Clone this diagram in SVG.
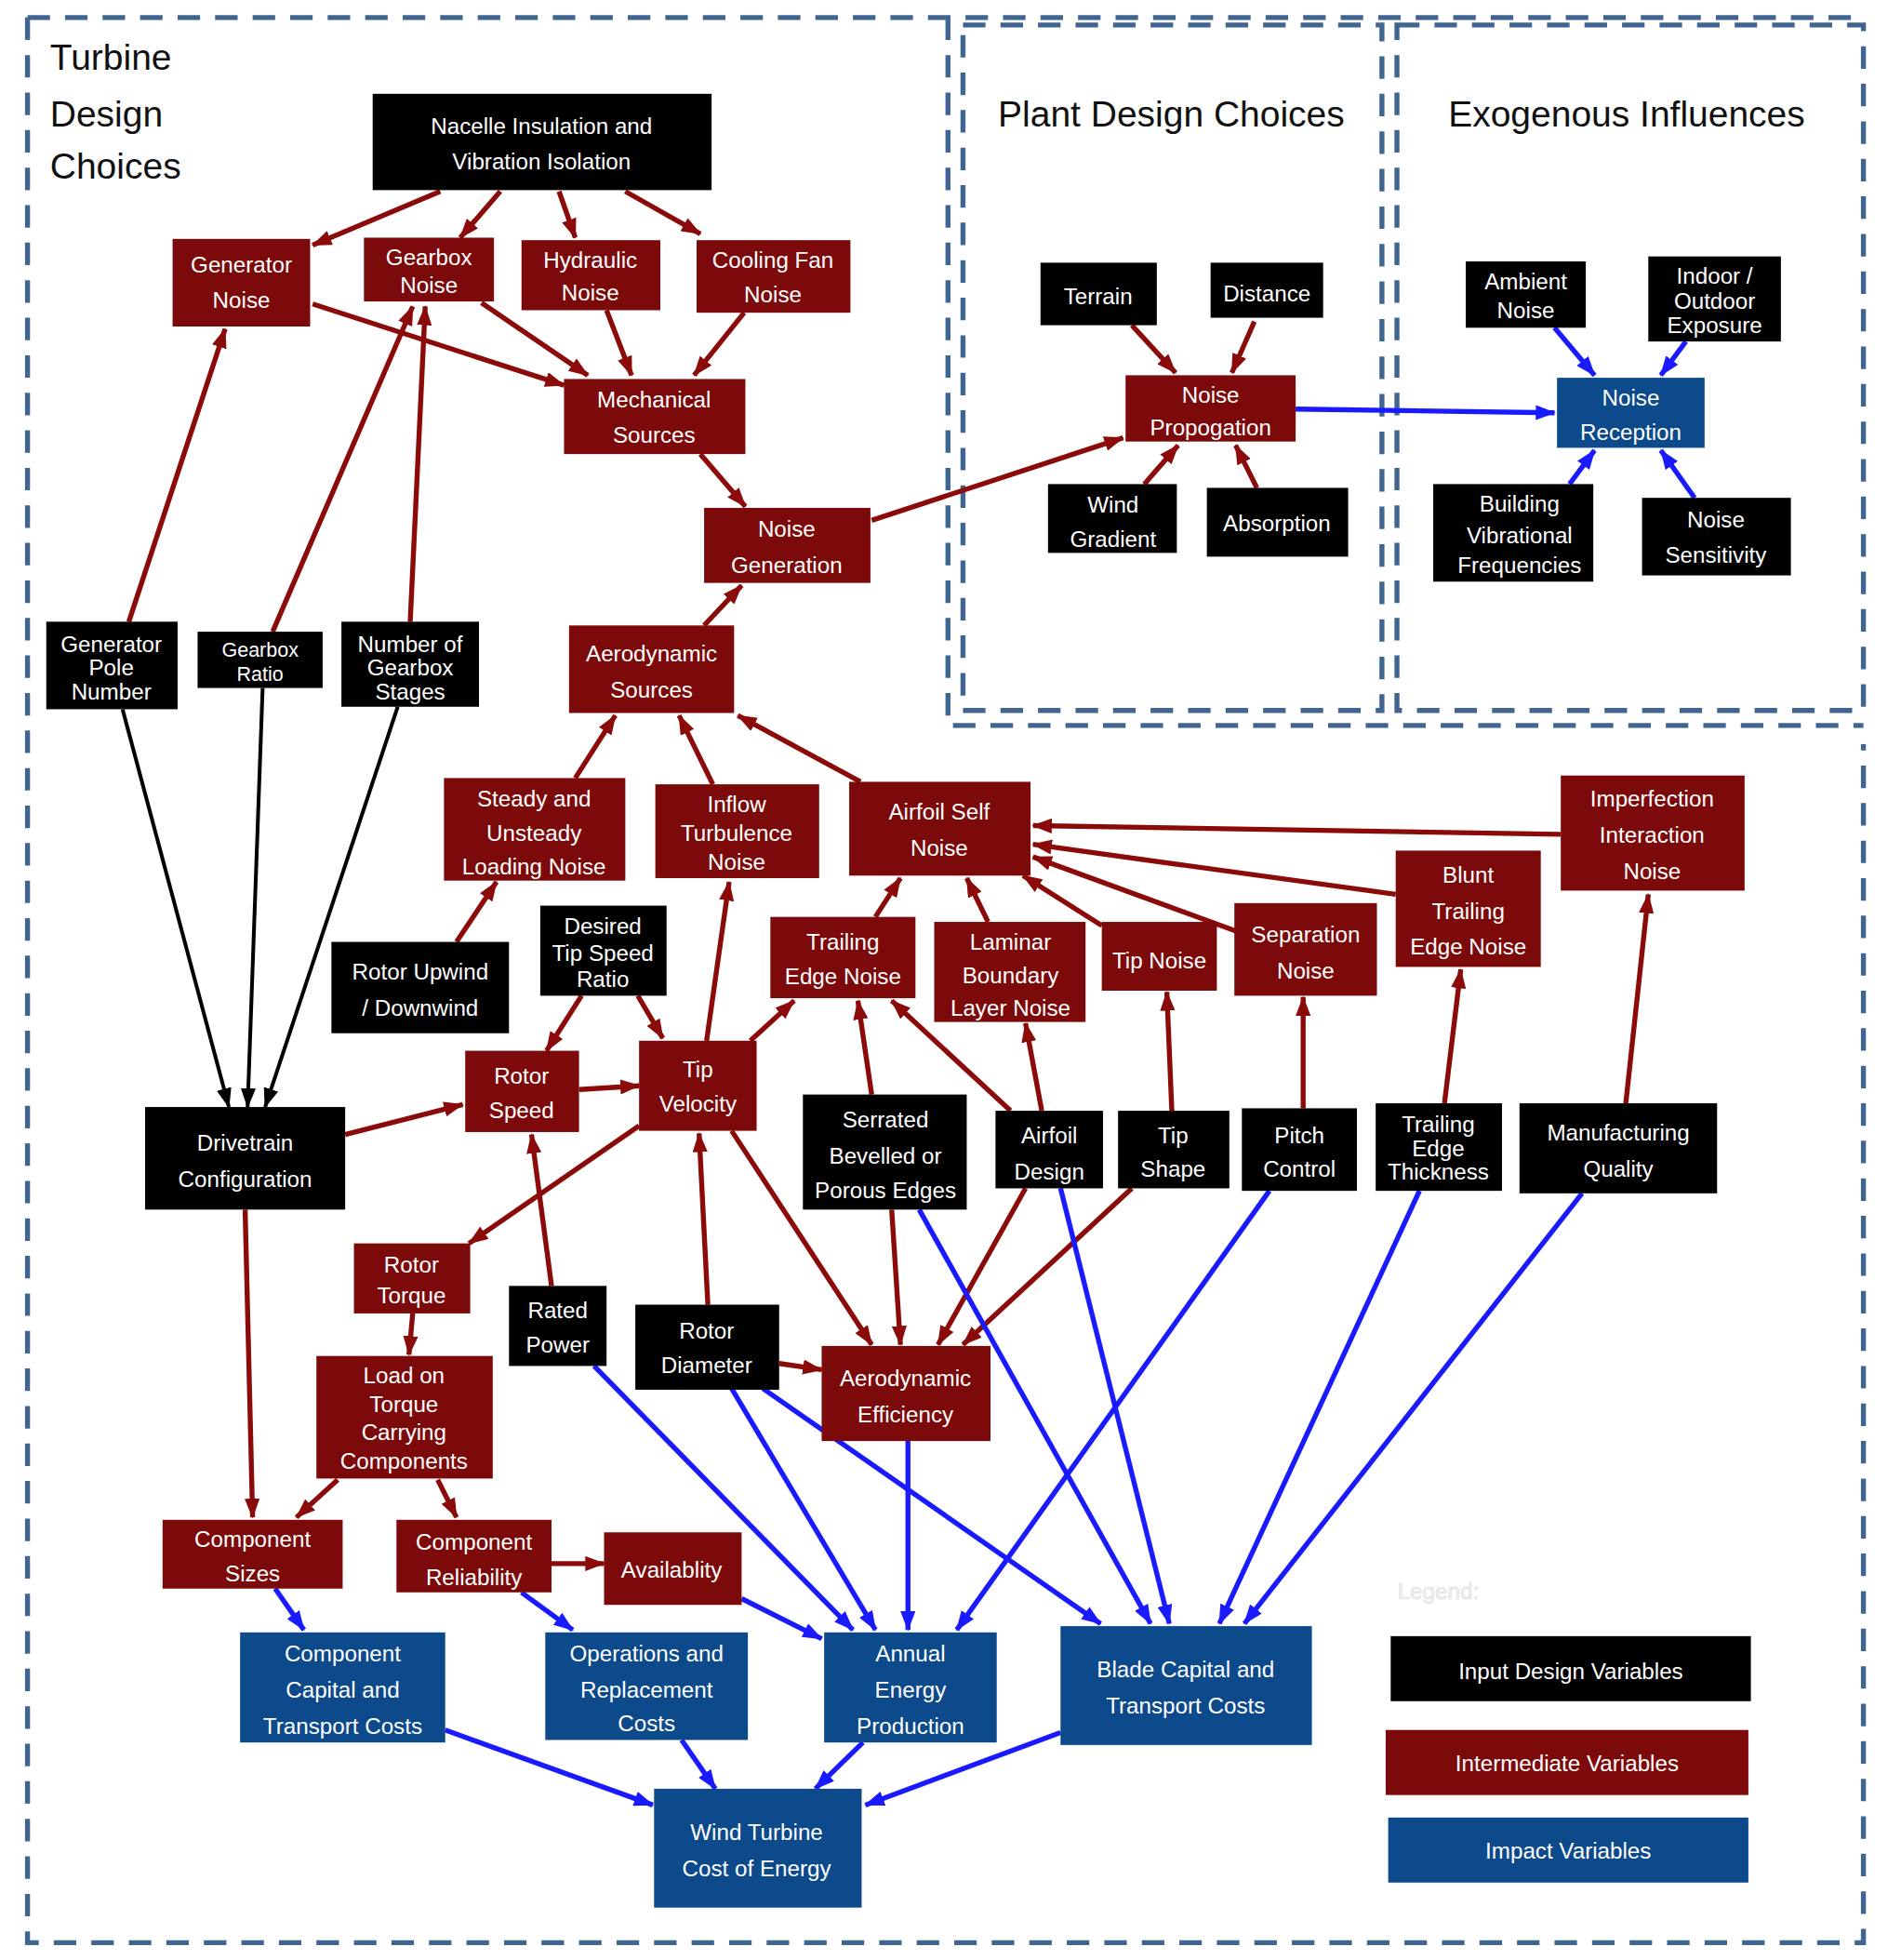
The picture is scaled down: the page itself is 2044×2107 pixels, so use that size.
<svg xmlns="http://www.w3.org/2000/svg" width="2044" height="2107" viewBox="0 0 2044 2107">
<style>
text{font-family:"Liberation Sans",Arial,sans-serif;font-size:18px;fill:#fff;text-anchor:middle}
.t{fill:#111;font-size:29px;text-anchor:start}
.k{fill:#000}.r{fill:#7d0a0a}.b{fill:#0d4a8c}
.fr{fill:none;stroke:#3f6590;stroke-width:4;stroke-dasharray:18 12}
.er{stroke:#8b0a0a;stroke-width:4;fill:none;marker-end:url(#mr)}
.eb{stroke:#1a1aff;stroke-width:4;fill:none;marker-end:url(#mb)}
.ek{stroke:#000;stroke-width:3;fill:none;marker-end:url(#mk)}
</style>
<defs>
<marker id="mr" markerWidth="16" markerHeight="12" refX="15" refY="6" orient="auto" markerUnits="userSpaceOnUse"><path d="M0,0L16,6L0,12z" fill="#8b0a0a"/></marker>
<marker id="mb" markerWidth="16" markerHeight="12" refX="15" refY="6" orient="auto" markerUnits="userSpaceOnUse"><path d="M0,0L16,6L0,12z" fill="#1a1aff"/></marker>
<marker id="mk" markerWidth="16" markerHeight="12" refX="15" refY="6" orient="auto" markerUnits="userSpaceOnUse"><path d="M0,0L16,6L0,12z" fill="#000"/></marker>
</defs>
<rect width="2044" height="2107" fill="#fff"/>
<g transform="scale(1.3447)">
<g id="frames">
<path class="fr" d="M22,14H1490M22,14V1553H1490V595"/>
<path class="fr" d="M758,14V580H1490"/>
<rect class="fr" x="770" y="20" width="335" height="548"/>
<rect class="fr" x="1117" y="20" width="373" height="548"/>
<text class="t" x="40" y="56">Turbine</text>
<text class="t" x="40" y="101">Design</text>
<text class="t" x="40" y="143">Choices</text>
<text class="t" x="798" y="101">Plant Design Choices</text>
<text class="t" x="1158" y="101">Exogenous Influences</text>
</g>
<g id="connectors">
<path class="er" d="M352,153L250,196"/><path class="er" d="M400,153L368,190"/><path class="er" d="M447,153L460,190"/><path class="er" d="M500,153L560,187"/>
<path class="er" d="M250,243L451,308"/><path class="er" d="M385,242L470,300"/><path class="er" d="M485,248L505,300"/><path class="er" d="M595,250L555,300"/>
<path class="er" d="M560,363L596,405"/><path class="er" d="M697,416L898,350"/><path class="er" d="M563,500L593,468"/>
<path class="er" d="M103,497L180,263"/><path class="er" d="M218,505L330,245"/><path class="er" d="M328,497L340,245"/>
<path class="er" d="M905,260L940,298"/><path class="er" d="M1003,257L985,298"/><path class="er" d="M915,387L942,356"/><path class="er" d="M1005,390L988,356"/>
<path class="er" d="M460,622L492,572"/><path class="er" d="M570,627L543,572"/><path class="er" d="M688,625L590,572"/>
<path class="er" d="M1248,667L826,660"/><path class="er" d="M1116,715L826,675"/><path class="er" d="M990,745L826,685"/><path class="er" d="M881,740L818,700"/><path class="er" d="M790,737L773,702"/><path class="er" d="M700,733L720,702"/>
<path class="er" d="M365,753L397,705"/><path class="er" d="M565,832L583,705"/><path class="er" d="M600,832L635,800"/>
<path class="er" d="M465,796L437,840"/><path class="er" d="M510,796L530,830"/><path class="er" d="M463,871L511,868"/><path class="er" d="M276,907L370,883"/>
<path class="er" d="M697,875L686,800"/><path class="er" d="M808,888L713,800"/><path class="er" d="M833,888L820,818"/><path class="er" d="M937,888L933,793"/><path class="er" d="M1042,886L1042,797"/><path class="er" d="M1155,882L1168,775"/><path class="er" d="M1300,882L1318,715"/>
<path class="er" d="M511,900L375,994"/><path class="er" d="M441,1028L425,907"/><path class="er" d="M566,1043L559,906"/><path class="er" d="M585,904L697,1075"/><path class="er" d="M713,967L720,1075"/><path class="er" d="M820,950L750,1075"/><path class="er" d="M905,950L770,1075"/><path class="er" d="M623,1090L657,1095"/>
<path class="er" d="M196,967L202,1213"/><path class="er" d="M330,1050L327,1083"/><path class="er" d="M270,1183L237,1213"/><path class="er" d="M350,1183L365,1213"/><path class="er" d="M441,1250L483,1250"/>
<path class="ek" d="M98,567L183,885"/><path class="ek" d="M210,550L198,885"/><path class="ek" d="M318,565L212,885"/>
<path class="eb" d="M1036,327L1243,330"/><path class="eb" d="M1243,262L1275,300"/><path class="eb" d="M1348,273L1328,300"/><path class="eb" d="M1255,387L1275,360"/><path class="eb" d="M1355,398L1328,360"/>
<path class="eb" d="M220,1270L243,1303"/><path class="eb" d="M417,1273L458,1303"/><path class="eb" d="M593,1278L657,1310"/><path class="eb" d="M475,1092L682,1303"/><path class="eb" d="M585,1110L700,1303"/><path class="eb" d="M610,1110L880,1298"/><path class="eb" d="M726,1152L726,1303"/>
<path class="eb" d="M735,967L920,1298"/><path class="eb" d="M848,950L935,1298"/><path class="eb" d="M1015,952L765,1303"/><path class="eb" d="M1135,952L975,1298"/><path class="eb" d="M1265,954L995,1298"/>
<path class="eb" d="M356,1383L522,1443"/><path class="eb" d="M545,1391L572,1430"/><path class="eb" d="M690,1393L652,1430"/><path class="eb" d="M848,1385L692,1443"/>
</g>
<g id="nacelle"><rect class="k" x="298" y="75" width="271" height="77"/><text x="433" y="107">Nacelle Insulation and</text><text x="433" y="135">Vibration Isolation</text></g>
<g id="genNoise"><rect class="r" x="138" y="191" width="110" height="70"/><text x="193" y="218">Generator</text><text x="193" y="246">Noise</text></g>
<g id="gbNoise"><rect class="r" x="291" y="190" width="104" height="51"/><text x="343" y="212">Gearbox</text><text x="343" y="234">Noise</text></g>
<g id="hydNoise"><rect class="r" x="417" y="192" width="111" height="56"/><text x="472" y="214">Hydraulic</text><text x="472" y="240">Noise</text></g>
<g id="coolNoise"><rect class="r" x="557" y="192" width="123" height="58"/><text x="618" y="214">Cooling Fan</text><text x="618" y="242">Noise</text></g>
<g id="mech"><rect class="r" x="451" y="303" width="145" height="60"/><text x="523" y="326">Mechanical</text><text x="523" y="354">Sources</text></g>
<g id="noiseGen"><rect class="r" x="563" y="406" width="133" height="60"/><text x="629" y="429">Noise</text><text x="629" y="458">Generation</text></g>
<g id="aeroSrc"><rect class="r" x="455" y="500" width="132" height="70"/><text x="521" y="529">Aerodynamic</text><text x="521" y="558">Sources</text></g>
<g id="genPole"><rect class="k" x="37" y="497" width="105" height="70"/><text x="89" y="521">Generator</text><text x="89" y="540">Pole</text><text x="89" y="559">Number</text></g>
<g id="gbRatio"><rect class="k" x="158" y="505" width="100" height="45"/><text x="208" y="525" style="font-size:16px">Gearbox</text><text x="208" y="544" style="font-size:16px">Ratio</text></g>
<g id="gbStages"><rect class="k" x="273" y="497" width="110" height="68"/><text x="328" y="521">Number of</text><text x="328" y="540">Gearbox</text><text x="328" y="559">Stages</text></g>
<g id="terrain"><rect class="k" x="832" y="210" width="93" height="50"/><text x="878" y="243">Terrain</text></g>
<g id="distance"><rect class="k" x="968" y="210" width="90" height="44"/><text x="1013" y="241">Distance</text></g>
<g id="noiseProp"><rect class="r" x="900" y="300" width="136" height="53"/><text x="968" y="322">Noise</text><text x="968" y="348">Propogation</text></g>
<g id="wind"><rect class="k" x="838" y="387" width="103" height="55"/><text x="890" y="410">Wind</text><text x="890" y="437">Gradient</text></g>
<g id="absorption"><rect class="k" x="965" y="390" width="113" height="55"/><text x="1021" y="425">Absorption</text></g>
<g id="ambient"><rect class="k" x="1172" y="209" width="96" height="53"/><text x="1220" y="231">Ambient</text><text x="1220" y="254">Noise</text></g>
<g id="indoor"><rect class="k" x="1318" y="205" width="106" height="68"/><text x="1371" y="227">Indoor /</text><text x="1371" y="247">Outdoor</text><text x="1371" y="266">Exposure</text></g>
<g id="noiseRec"><rect class="b" x="1245" y="302" width="118" height="56"/><text x="1304" y="324">Noise</text><text x="1304" y="352">Reception</text></g>
<g id="building"><rect class="k" x="1146" y="387" width="128" height="78"/><text x="1215" y="409">Building</text><text x="1215" y="434">Vibrational</text><text x="1215" y="458">Frequencies</text></g>
<g id="sensitivity"><rect class="k" x="1313" y="398" width="119" height="62"/><text x="1372" y="422">Noise</text><text x="1372" y="450">Sensitivity</text></g>
<g id="steady"><rect class="r" x="355" y="622" width="145" height="82"/><text x="427" y="645">Steady and</text><text x="427" y="672">Unsteady</text><text x="427" y="699">Loading Noise</text></g>
<g id="inflow"><rect class="r" x="524" y="627" width="131" height="75"/><text x="589" y="649">Inflow</text><text x="589" y="672">Turbulence</text><text x="589" y="695">Noise</text></g>
<g id="airfoilSelf"><rect class="r" x="679" y="625" width="145" height="75"/><text x="751" y="655">Airfoil Self</text><text x="751" y="684">Noise</text></g>
<g id="imperfection"><rect class="r" x="1248" y="620" width="147" height="92"/><text x="1321" y="645">Imperfection</text><text x="1321" y="674">Interaction</text><text x="1321" y="703">Noise</text></g>
<g id="blunt"><rect class="r" x="1116" y="680" width="116" height="93"/><text x="1174" y="706">Blunt</text><text x="1174" y="735">Trailing</text><text x="1174" y="763">Edge Noise</text></g>
<g id="separation"><rect class="r" x="987" y="722" width="114" height="74"/><text x="1044" y="753">Separation</text><text x="1044" y="782">Noise</text></g>
<g id="tipNoise"><rect class="r" x="881" y="737" width="92" height="55"/><text x="927" y="774">Tip Noise</text></g>
<g id="laminar"><rect class="r" x="747" y="737" width="121" height="80"/><text x="808" y="759">Laminar</text><text x="808" y="786">Boundary</text><text x="808" y="812">Layer Noise</text></g>
<g id="trailing"><rect class="r" x="616" y="733" width="116" height="65"/><text x="674" y="759">Trailing</text><text x="674" y="787">Edge Noise</text></g>
<g id="dtsr"><rect class="k" x="432" y="724" width="101" height="72"/><text x="482" y="747">Desired</text><text x="482" y="768">Tip Speed</text><text x="482" y="789">Ratio</text></g>
<g id="upwind"><rect class="k" x="265" y="753" width="142" height="73"/><text x="336" y="783">Rotor Upwind</text><text x="336" y="812">/ Downwind</text></g>
<g id="rotorSpeed"><rect class="r" x="372" y="840" width="91" height="65"/><text x="417" y="866">Rotor</text><text x="417" y="894">Speed</text></g>
<g id="tipVel"><rect class="r" x="511" y="832" width="94" height="72"/><text x="558" y="861">Tip</text><text x="558" y="889">Velocity</text></g>
<g id="drivetrain"><rect class="k" x="116" y="885" width="160" height="82"/><text x="196" y="920">Drivetrain</text><text x="196" y="949">Configuration</text></g>
<g id="serrated"><rect class="k" x="642" y="875" width="131" height="92"/><text x="708" y="901">Serrated</text><text x="708" y="930">Bevelled or</text><text x="708" y="958">Porous Edges</text></g>
<g id="airfoilDesign"><rect class="k" x="796" y="888" width="86" height="62"/><text x="839" y="914">Airfoil</text><text x="839" y="943">Design</text></g>
<g id="tipShape"><rect class="k" x="894" y="888" width="89" height="62"/><text x="938" y="914">Tip</text><text x="938" y="941">Shape</text></g>
<g id="pitch"><rect class="k" x="993" y="886" width="92" height="66"/><text x="1039" y="914">Pitch</text><text x="1039" y="941">Control</text></g>
<g id="teThick"><rect class="k" x="1100" y="882" width="101" height="70"/><text x="1150" y="905">Trailing</text><text x="1150" y="924">Edge</text><text x="1150" y="943">Thickness</text></g>
<g id="manufacturing"><rect class="k" x="1215" y="882" width="158" height="72"/><text x="1294" y="912">Manufacturing</text><text x="1294" y="941">Quality</text></g>
<g id="rotorTorque"><rect class="r" x="283" y="994" width="93" height="56"/><text x="329" y="1017">Rotor</text><text x="329" y="1042">Torque</text></g>
<g id="ratedPower"><rect class="k" x="407" y="1028" width="78" height="64"/><text x="446" y="1054">Rated</text><text x="446" y="1081">Power</text></g>
<g id="rotorDiam"><rect class="k" x="508" y="1043" width="115" height="68"/><text x="565" y="1070">Rotor</text><text x="565" y="1098">Diameter</text></g>
<g id="aeroEff"><rect class="r" x="657" y="1076" width="135" height="76"/><text x="724" y="1108">Aerodynamic</text><text x="724" y="1137">Efficiency</text></g>
<g id="load"><rect class="r" x="253" y="1084" width="141" height="98"/><text x="323" y="1106">Load on</text><text x="323" y="1129">Torque</text><text x="323" y="1151">Carrying</text><text x="323" y="1174">Components</text></g>
<g id="compSizes"><rect class="r" x="130" y="1215" width="144" height="55"/><text x="202" y="1237">Component</text><text x="202" y="1264">Sizes</text></g>
<g id="compRel"><rect class="r" x="317" y="1215" width="124" height="58"/><text x="379" y="1239">Component</text><text x="379" y="1267">Reliability</text></g>
<g id="avail"><rect class="r" x="483" y="1225" width="110" height="58"/><text x="537" y="1261">Availablity</text></g>
<g id="cctc"><rect class="b" x="192" y="1305" width="164" height="88"/><text x="274" y="1328">Component</text><text x="274" y="1357">Capital and</text><text x="274" y="1386">Transport Costs</text></g>
<g id="orc"><rect class="b" x="436" y="1305" width="162" height="86"/><text x="517" y="1328">Operations and</text><text x="517" y="1357">Replacement</text><text x="517" y="1384">Costs</text></g>
<g id="aep"><rect class="b" x="659" y="1305" width="138" height="88"/><text x="728" y="1328">Annual</text><text x="728" y="1357">Energy</text><text x="728" y="1386">Production</text></g>
<g id="blade"><rect class="b" x="848" y="1300" width="201" height="95"/><text x="948" y="1341">Blade Capital and</text><text x="948" y="1370">Transport Costs</text></g>
<g id="coe"><rect class="b" x="523" y="1430" width="166" height="95"/><text x="605" y="1471">Wind Turbine</text><text x="605" y="1500">Cost of Energy</text></g>
<g id="legend">
<text x="1150" y="1278" style="fill:#f2f2f2;stroke:#ddd;stroke-width:0.5">Legend:</text>
<rect class="k" x="1112" y="1308" width="288" height="52"/><text x="1256" y="1342">Input Design Variables</text>
<rect class="r" x="1108" y="1383" width="290" height="52"/><text x="1253" y="1416">Intermediate Variables</text>
<rect class="b" x="1110" y="1453" width="288" height="52"/><text x="1254" y="1486">Impact Variables</text>
</g>
</g>
</svg>
